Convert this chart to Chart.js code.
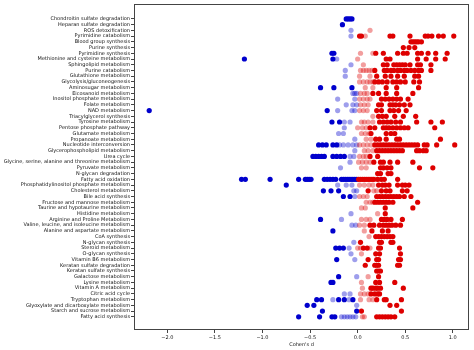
<!DOCTYPE html>
<html>
<head>
<meta charset="utf-8">
<script src="https://cdn.jsdelivr.net/npm/chart.js@4.4.1/dist/chart.umd.min.js"></script>
<style>
  body { margin: 0; background: #fff; }
  #wrap { width: 474px; height: 350px; }
</style>
</head>
<body>
<div id="wrap"><canvas id="stripChart" width="474" height="350"></canvas></div>
<script>
const categories = [
    'Chondroitin sulfate degradation', 'Heparan sulfate degradation', 'ROS detoxification',
    'Pyrimidine catabolism', 'Blood group synthesis', 'Purine synthesis', 'Pyrimidine synthesis',
    'Methionine and cysteine metabolism', 'Sphingolipid metabolism', 'Purine catabolism',
    'Glutathione metabolism', 'Glycolysis/gluconeogenesis', 'Aminosugar metabolism',
    'Eicosanoid metabolism', 'Inositol phosphate metabolism', 'Folate metabolism', 'NAD metabolism',
    'Triacylglycerol synthesis', 'Tyrosine metabolism', 'Pentose phosphate pathway',
    'Glutamate metabolism', 'Propanoate metabolism', 'Nucleotide interconversion',
    'Glycerophospholipid metabolism', 'Urea cycle', 'Glycine, serine, alanine and threonine metabolism',
    'Pyruvate metabolism', 'N-glycan degradation', 'Fatty acid oxidation',
    'Phosphatidylinositol phosphate metabolism', 'Cholesterol metabolism', 'Bile acid synthesis',
    'Fructose and mannose metabolism', 'Taurine and hypotaurine metabolism', 'Histidine metabolism',
    'Arginine and Proline Metabolism', 'Valine, leucine, and isoleucine metabolism',
    'Alanine and aspartate metabolism', 'CoA synthesis', 'N-glycan synthesis', 'Steroid metabolism',
    'O-glycan synthesis', 'Vitamin B6 metabolism', 'Keratan sulfate degradation',
    'Keratan sulfate synthesis', 'Galactose metabolism', 'Lysine metabolism', 'Vitamin A metabolism',
    'Citric acid cycle', 'Tryptophan metabolism', 'Glyoxylate and dicarboxylate metabolism',
    'Starch and sucrose metabolism', 'Fatty acid synthesis'
];

// Cohen's d per reaction, significant ones (strong colour)
const significantD = [
    [-0.12, -0.10, -0.08, -0.06],
    [-0.16],
    [],
    [0.02, 0.04, 0.34, 0.37, 0.55, 0.71, 0.74, 0.78, 0.85, 0.90, 1.01],
    [0.56, 0.58, 0.60, 0.62, 0.64, 0.67],
    [0.48, 0.54, 0.60],
    [-0.27, -0.25, 0.19, 0.27, 0.42, 0.48, 0.52, 0.63, 0.67, 0.74, 0.82, 0.94],
    [-1.19, -0.26, 0.30, 0.34, 0.63, 0.72, 0.82, 0.92],
    [0.27, 0.31, 0.38, 0.41, 0.44, 0.47, 0.50, 0.55, 0.63, 0.66, 0.77],
    [0.18, 0.28, 0.31, 0.35, 0.38, 0.42, 0.45, 0.49, 0.52, 0.56, 0.60, 0.64, 0.67, 0.77],
    [0.20, 0.29, 0.35, 0.42, 0.49, 0.60, 0.64],
    [0.18, 0.22, 0.26, 0.31, 0.37, 0.41, 0.45, 0.50, 0.59, 0.65],
    [-0.39, -0.25, -0.06, 0.30, 0.41, 0.64],
    [0.16, 0.22, 0.30, 0.41, 0.58],
    [0.25, 0.29, 0.33, 0.37, 0.41, 0.45, 0.53],
    [0.22, 0.25, 0.34, 0.37, 0.40, 0.44, 0.49, 0.55],
    [-2.19, -0.32, 0.20, 0.25, 0.34, 0.38, 0.43, 0.51],
    [0.22, 0.26, 0.30, 0.39, 0.48, 0.61],
    [-0.27, -0.19, 0.23, 0.27, 0.31, 0.35, 0.40, 0.45, 0.62, 0.77, 0.89],
    [0.13, 0.18, 0.27, 0.30, 0.33, 0.37, 0.41, 0.45, 0.49, 0.53, 0.81],
    [0.14, 0.30, 0.35, 0.39],
    [0.19, 0.23, 0.30, 0.41, 0.44, 0.87],
    [-0.41, -0.37, -0.33, -0.26, -0.22, 0.18, 0.21, 0.24, 0.27, 0.30, 0.33, 0.36, 0.39, 0.42, 0.45,
     0.48, 0.51, 0.54, 0.57, 0.60, 0.63, 0.70, 0.73, 0.83, 1.02],
    [0.20, 0.23, 0.26, 0.29, 0.32, 0.35, 0.38, 0.41, 0.44, 0.47, 0.62, 0.65, 0.69, 0.72],
    [-0.47, -0.44, -0.41, -0.38, -0.35, -0.26, -0.22, -0.18, -0.14, 0.13, 0.21],
    [0.17, 0.24, 0.27, 0.34, 0.42, 0.58],
    [0.24, 0.27, 0.31, 0.35, 0.65, 0.79],
    [0.21, 0.24, 0.32, 0.35],
    [-1.22, -1.18, -0.92, -0.62, -0.55, -0.53, -0.51, -0.49, -0.35, -0.32, -0.29, -0.26, -0.23,
     -0.17, -0.15, -0.13, -0.11, -0.09, -0.07, -0.05, -0.03, -0.01, 0.01, 0.03, 0.05, 0.07, 0.09,
     0.11, 0.13, 0.15, 0.17, 0.21, 0.25, 0.28, 0.42],
    [-0.75, 0.22, 0.26, 0.29, 0.33, 0.42, 0.47, 0.50, 0.54],
    [-0.36, -0.28, -0.20, 0.11, 0.25, 0.30, 0.34, 0.47, 0.52],
    [-0.15, -0.08, 0.20, 0.23, 0.26, 0.29, 0.32, 0.35, 0.38, 0.41, 0.44, 0.49, 0.56],
    [0.18, 0.21, 0.24, 0.27, 0.30, 0.33, 0.37, 0.63],
    [0.29, 0.58],
    [0.29],
    [-0.39, 0.25, 0.28, 0.31, 0.35, 0.47],
    [0.13, 0.17, 0.23, 0.27, 0.30, 0.33, 0.36, 0.40, 0.45],
    [-0.26, 0.15, 0.26, 0.32],
    [0.19, 0.22, 0.25, 0.28, 0.31, 0.34, 0.37],
    [0.03, 0.23, 0.25, 0.35, 0.37],
    [-0.23, -0.19, -0.15, 0.06, 0.10, 0.22, 0.24, 0.44],
    [0.19, 0.23, 0.45],
    [-0.22, 0.11, 0.20, 0.22, 0.43, 0.45],
    [0.08, 0.18, 0.20, 0.22, 0.42, 0.44],
    [0.20, 0.22, 0.24],
    [-0.20, 0.22],
    [-0.28, -0.26, 0.19, 0.23, 0.39],
    [0.14, 0.16, 0.19, 0.21, 0.24, 0.48],
    [0.14, 0.18, 0.21, 0.23],
    [-0.43, -0.38, -0.20, -0.14, -0.05, 0.20, 0.28, 0.30, 0.46],
    [-0.53, -0.46, 0.34, 0.41],
    [-0.37, -0.01, 0.04, 0.46],
    [-0.62, -0.40, -0.27, -0.24, 0.20, 0.23, 0.26, 0.29, 0.32, 0.35, 0.39]
];

// Cohen's d per reaction, not significant (faded)
const nonSignificantD = [
    [], [], [-0.07, 0.13], [-0.07, 0.08], [], [], [0.03, 0.16], [-0.22, 0.00], [-0.07, 0.06],
    [-0.13, 0.03, 0.06, 0.09, 0.12, 0.15], [-0.13, 0.02, 0.13], [0.02, 0.06, 0.10, 0.13, 0.16],
    [0.08, 0.16], [-0.05, -0.03, -0.01, 0.03, 0.07, 0.10], [-0.21, -0.03, 0.02, 0.06, 0.10, 0.13],
    [-0.12, -0.05, -0.01, 0.03, 0.07, 0.11], [-0.21, -0.06, -0.03, 0.02, 0.06, 0.10], [0.16],
    [-0.14, -0.08, 0.04, 0.07, 0.11, 0.16], [-0.14, 0.00, 0.05, 0.09], [-0.20, -0.15, 0.04, 0.08, 0.12],
    [-0.03, 0.09, 0.14], [-0.19, -0.15, -0.10, -0.05, -0.01, 0.02, 0.06, 0.10, 0.14],
    [-0.03, 0.07, 0.11, 0.16], [-0.08, -0.04, 0.02, 0.06, 0.09], [-0.08, 0.01, 0.05, 0.09, 0.13],
    [-0.18, 0.04, 0.09], [], [0.19, 0.23], [-0.21, -0.12, -0.06, 0.02, 0.07, 0.12, 0.16],
    [-0.04, -0.01, 0.17, 0.20], [-0.03, 0.02, 0.06, 0.10], [0.09, 0.13, 0.16], [0.04, 0.08],
    [-0.07, 0.21], [-0.17, 0.04, 0.09, 0.13], [-0.06, -0.02, 0.02, 0.07], [0.07], [0.12], [-0.04],
    [-0.09, 0.00, 0.03, 0.13], [-0.07, 0.04], [-0.03], [], [], [-0.01, 0.11], [0.04], [0.05],
    [-0.14, -0.08, 0.03, 0.07, 0.11], [-0.26, -0.09, 0.03, 0.12, 0.16], [-0.01], [],
    [-0.17, -0.14, -0.11, -0.08, -0.05, -0.02, 0.05, 0.07]
];

const xTicks = [-2.0, -1.5, -1.0, -0.5, 0.0, 0.5, 1.0];

const BLUE = 'rgb(0, 0, 205)';
const RED = 'rgb(222, 0, 0)';
const BLUE_FADED = 'rgba(0, 0, 205, 0.38)';
const RED_FADED = 'rgba(222, 0, 0, 0.38)';

function toPoints(rows) {
    const pts = [];
    rows.forEach((vals, i) => {
        vals.forEach(v => pts.push({ x: v, y: i }));
    });
    return pts;
}

const fadedPoints = toPoints(nonSignificantD);
const strongPoints = toPoints(significantD);

const frameBox = {
    id: 'frameBox',
    afterDraw(chart) {
        const { ctx, chartArea } = chart;
        ctx.save();
        ctx.strokeStyle = '#444';
        ctx.lineWidth = 1;
        ctx.strokeRect(chartArea.left + 0.5, chartArea.top + 0.5,
            chartArea.right - chartArea.left - 1, chartArea.bottom - chartArea.top - 1);
        ctx.restore();
    }
};

const tickFont = { family: 'DejaVu Sans', size: 5 };

const ctx = document.getElementById('stripChart').getContext('2d');
new Chart(ctx, {
    type: 'scatter',
    data: {
        datasets: [
            {
                label: 'not significant',
                data: fadedPoints,
                pointRadius: 2.6,
                pointBorderWidth: 0,
                pointBackgroundColor: c => (c.raw && c.raw.x < 0 ? BLUE_FADED : RED_FADED)
            },
            {
                label: 'significant',
                data: strongPoints,
                pointRadius: 2.6,
                pointBorderWidth: 0,
                pointBackgroundColor: c => (c.raw && c.raw.x < 0 ? BLUE : RED)
            }
        ]
    },
    options: {
        responsive: false,
        animation: false,
        layout: { padding: { top: 3, right: 5, left: 0, bottom: 0 } },
        plugins: {
            legend: { display: false },
            tooltip: { enabled: false }
        },
        scales: {
            x: {
                type: 'linear',
                min: -2.35,
                max: 1.17,
                afterBuildTicks: scale => { scale.ticks = xTicks.map(v => ({ value: v })); },
                afterFit: scale => { scale.height = 20; },
                ticks: {
                    font: tickFont,
                    color: '#111',
                    padding: 1.5,
                    maxRotation: 0,
                    callback: v => v.toFixed(1).replace('-', '\u2212')
                },
                grid: { drawOnChartArea: false, tickLength: 3, tickColor: '#444' },
                border: { display: false },
                title: {
                    display: true,
                    text: "Cohen's d",
                    font: tickFont,
                    color: '#111',
                    padding: { top: 0, bottom: 2 }
                }
            },
            y: {
                type: 'linear',
                reverse: true,
                min: -2.6,
                max: 54.3,
                afterBuildTicks: scale => { scale.ticks = categories.map((c, i) => ({ value: i })); },
                afterFit: scale => { scale.width = 134; },
                ticks: {
                    font: tickFont,
                    color: '#111',
                    padding: 1,
                    autoSkip: false,
                    callback: v => categories[v]
                },
                grid: { drawOnChartArea: false, tickLength: 3, tickColor: '#444' },
                border: { display: false }
            }
        }
    },
    plugins: [frameBox]
});
</script>
</body>
</html>
